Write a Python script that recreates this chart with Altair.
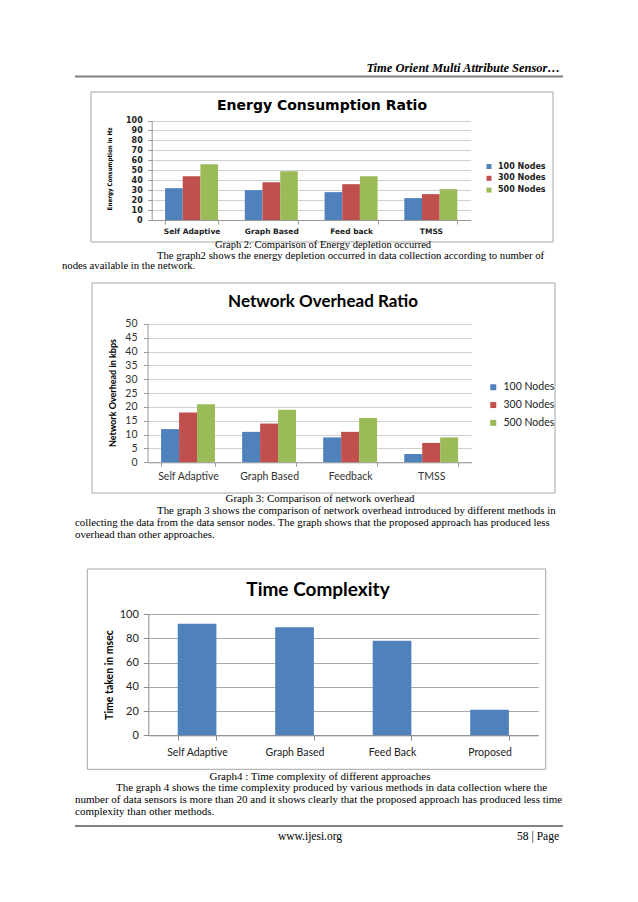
import altair as alt
import pandas as pd

# ---------------- data ----------------
node_series = ["100 Nodes", "300 Nodes", "500 Nodes"]
node_colors = ["#4F81BD", "#C0504D", "#9BBB59"]

energy_methods = ["Self Adaptive", "Graph Based", "Feed back", "TMSS"]
energy_100 = [32, 30, 28, 22]
energy_300 = [44, 38, 36, 26]
energy_500 = [56, 49, 44, 31]
energy_ticks = [0, 10, 20, 30, 40, 50, 60, 70, 80, 90, 100]

overhead_methods = ["Self Adaptive", "Graph Based", "Feedback", "TMSS"]
overhead_100 = [12, 11, 9, 3]
overhead_300 = [18, 14, 11, 7]
overhead_500 = [21, 19, 16, 9]
overhead_ticks = [0, 5, 10, 15, 20, 25, 30, 35, 40, 45, 50]

time_methods = ["Self Adaptive", "Graph Based", "Feed Back", "Proposed"]
time_values = [92, 89, 78, 21]
time_ticks = [0, 20, 40, 60, 80, 100]

title_energy = "Energy Consumption Ratio"
ytitle_energy = "Energy Consumption in Hz"
title_overhead = "Network Overhead Ratio"
ytitle_overhead = "Network Overhead in kbps"
title_time = "Time Complexity"
ytitle_time = "Time taken in msec"

header_text = "Time Orient Multi Attribute Sensor\u2026"
caption2 = "Graph 2: Comparison of Energy depletion occurred"
para2 = ["The graph2 shows the energy depletion occurred in data collection according to number of",
         "nodes available in the network."]
caption3 = "Graph 3: Comparison of network overhead"
para3 = ["The graph 3 shows the comparison of network overhead introduced by different methods in",
         "collecting the data from the data sensor nodes. The graph shows that the proposed approach has produced less",
         "overhead than other approaches."]
caption4 = "Graph4 : Time complexity of different approaches"
para4 = ["The graph 4 shows the time complexity produced by various methods in data collection where the",
         "number of data sensors is more than 20 and it shows clearly that the proposed approach has produced less time",
         "complexity than other methods."]
footer_site = "www.ijesi.org"
footer_page = "58 | Page"


def grouped(methods, series_vals):
    rows = []
    for s, vals in zip(node_series, series_vals):
        for m, v in zip(methods, vals):
            rows.append({"method": m, "series": s, "value": v})
    return pd.DataFrame(rows)


energy_df = grouped(energy_methods, [energy_100, energy_300, energy_500])
overhead_df = grouped(overhead_methods, [overhead_100, overhead_300, overhead_500])
time_df = pd.DataFrame({"method": time_methods, "value": time_values})

# ---------------- layout helpers (page pixel coords) ----------------
W, H = 622, 880
M = 8


def px(v):
    return v - M


SERIF = "Liberation Serif"
VERD = "DejaVu Sans"
CALI = "Lato"
NARROW = "Liberation Sans Narrow, DejaVu Sans Condensed, sans-serif"


def txt(t, x, y, size, font=SERIF, align="left", weight="normal", style="normal",
        color="#000000", angle=0):
    return alt.Chart(alt.Data(values=[{}])).mark_text(
        text=t, align=align, baseline="middle", font=font, fontSize=size,
        fontWeight=weight, fontStyle=style, color=color, angle=angle
    ).encode(x=alt.value(px(x)), y=alt.value(px(y)))


def frame(x1, y1, x2, y2, color="#a6a6a6", width=1):
    return alt.Chart(alt.Data(values=[{}])).mark_rect(
        fill="transparent", stroke=color, strokeWidth=width
    ).encode(x=alt.value(px(x1)), x2=alt.value(px(x2)),
             y=alt.value(px(y1)), y2=alt.value(px(y2)))


def hline(x1, x2, y, color="#808080", width=2):
    return alt.Chart(alt.Data(values=[{}])).mark_rule(
        color=color, strokeWidth=width
    ).encode(x=alt.value(px(x1)), x2=alt.value(px(x2)), y=alt.value(px(y)))


def grouped_bars(df, methods, ticks, ymax, x0, x1, y0, y1, font, fsize_x, fsize_y,
                 weight, lab_color, grid_color, legend_x, legend_y, legend_font,
                 legend_size, legend_weight, row_pad, sym, xpad, ypad):
    return alt.Chart(df).mark_bar().encode(
        x=alt.X("method:N", sort=methods, title=None,
                scale=alt.Scale(range=[px(x0), px(x1)], paddingInner=0.335, paddingOuter=0.1675),
                axis=alt.Axis(orient="bottom", offset=px(y0) - H, labelAngle=0,
                              labelFont=font, labelFontSize=fsize_x, labelFontWeight=weight,
                              labelColor=lab_color, labelPadding=xpad, tickSize=4,
                              tickColor="#9a9a9a", domainColor="#9a9a9a", tickBand="extent",
                              grid=False)),
        xOffset=alt.XOffset("series:N", sort=node_series,
                            scale=alt.Scale(paddingInner=0, paddingOuter=0)),
        y=alt.Y("value:Q", title=None,
                scale=alt.Scale(domain=[0, ymax], range=[px(y0), px(y1)], nice=False),
                axis=alt.Axis(orient="left", offset=-px(x0), values=ticks,
                              labelFont=font, labelFontSize=fsize_y, labelFontWeight=weight,
                              labelColor=lab_color, labelPadding=ypad, tickSize=4,
                              tickColor="#9a9a9a", domainColor="#9a9a9a",
                              grid=True, gridColor=grid_color, labelOverlap=False)),
        color=alt.Color("series:N", sort=node_series,
                        scale=alt.Scale(domain=node_series, range=node_colors),
                        legend=alt.Legend(orient="none", legendX=px(legend_x), legendY=px(legend_y),
                                          direction="vertical", title=None, symbolType="square",
                                          symbolSize=sym, symbolStrokeWidth=0,
                                          labelFont=legend_font, labelFontSize=legend_size,
                                          labelFontWeight=legend_weight, labelColor="#222222",
                                          rowPadding=row_pad, padding=0, labelOffset=5)),
    )


bars1 = grouped_bars(energy_df, energy_methods, energy_ticks, 100,
                     151.7, 470.7, 220, 120.5, VERD, 7.5, 8, "bold", "#222222", "#d0d0d0",
                     485, 162.5, VERD, 8, "bold", 3.8, 25, 3, 5.5)
bars2 = grouped_bars(overhead_df, overhead_methods, overhead_ticks, 50,
                     147.5, 471.7, 462.3, 323.9, CALI, 10.5, 10.5, "normal", "#333333", "#d0d0d0",
                     488, 382, CALI, 10.5, "normal", 6.8, 36, 5, 6.5)

bars3 = alt.Chart(time_df).mark_bar(color="#4F81BD").encode(
    x=alt.X("method:N", sort=time_methods, title=None,
            scale=alt.Scale(range=[px(148.3), px(538.3)], paddingInner=0.603, paddingOuter=0.3015),
            axis=alt.Axis(orient="bottom", offset=px(735.3) - H, labelAngle=0,
                          labelFont=CALI, labelFontSize=10.5, labelColor="#222222",
                          labelPadding=7, tickSize=5, tickColor="#8c8c8c",
                          domainColor="#8c8c8c", tickBand="extent", grid=False)),
    y=alt.Y("value:Q", title=None,
            scale=alt.Scale(domain=[0, 100], range=[px(735.3), px(614)], nice=False),
            axis=alt.Axis(orient="left", offset=-px(148.3), values=time_ticks,
                          labelFont=CALI, labelFontSize=11, labelColor="#222222",
                          labelPadding=5, tickSize=5, tickColor="#8c8c8c",
                          domainColor="#8c8c8c", grid=True, gridColor="#a8a8a8",
                          labelOverlap=False)),
)

decor = [
    # page header
    txt(header_text, 560, 68, 12.5, align="right", weight="bold", style="italic"),
    hline(75, 563, 76.5),
    # chart 1 furniture
    frame(91, 92, 553, 242),
    txt(title_energy, 322, 106, 14, font=VERD, align="center", weight="bold"),
    txt(ytitle_energy, 110, 169, 6.2, font=NARROW, align="center", weight="bold", angle=270),
    # caption 2
    txt(caption2, 323, 245, 10.5, align="center"),
    txt(para2[0], 157, 255.5, 10.7),
    txt(para2[1], 62, 265.5, 10.7),
    # chart 2 furniture
    frame(92, 283, 555, 493),
    txt(title_overhead, 323, 302, 17, font=CALI, align="center", weight="bold"),
    txt(ytitle_overhead, 113, 393, 9, font=CALI, align="center", weight="bold", angle=270),
    # caption 3
    txt(caption3, 320, 498.5, 11, align="center"),
    txt(para3[0], 157, 510.5, 10.9),
    txt(para3[1], 75, 522.5, 10.8),
    txt(para3[2], 75, 534.5, 10.8),
    # chart 3 furniture
    frame(87.3, 569, 545.7, 769.3),
    txt(title_time, 318, 590, 19, font=CALI, align="center", weight="bold"),
    txt(ytitle_time, 110, 675, 10.5, font=CALI, align="center", weight="bold", angle=270),
    # caption 4
    txt(caption4, 320, 776.5, 11, align="center"),
    txt(para4[0], 116, 787.5, 11),
    txt(para4[1], 75, 799.5, 11),
    txt(para4[2], 75, 811.5, 11),
    # footer
    hline(75, 563, 826),
    txt(footer_site, 310, 836.5, 11.5, align="center"),
    txt(footer_page, 559, 836.5, 11.5, align="right"),
]

chart = alt.layer(bars1, bars2, bars3, *decor).resolve_scale(
    x="independent", y="independent", color="independent", xOffset="independent"
).properties(
    width=W, height=H, autosize=alt.AutoSizeParams(type="none"), padding=0,
    background="white"
).configure_view(stroke=None)

chart.save("out.html", embed_options={"renderer": "svg", "actions": False})
